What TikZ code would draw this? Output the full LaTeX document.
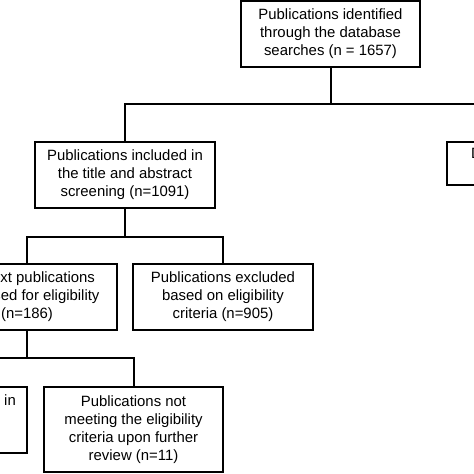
\documentclass[tikz,border=0pt]{standalone}
\usepackage{fontspec}
\setmainfont{Liberation Sans}
\begin{document}
\begin{tikzpicture}[x=1pt,y=-1pt,
  box/.style={draw=black,line width=2pt,rectangle,inner sep=0pt,align=center,
    font=\fontsize{14.9}{18}\selectfont},
  link/.style={draw=black,line width=2pt}]
\clip (0,0) rectangle (474,474);
\fill[white] (0,0) rectangle (474,474);
\node[box,minimum width=179pt,minimum height=66pt] (top) at (330.5,34)
  {Publications identified\\through the database\\searches (n = 1657)};
\node[box,minimum width=180pt,minimum height=66pt] (screen) at (125,175)
  {Publications included in\\the title and abstract\\screening (n=1091)};
\node[box,minimum width=181pt,minimum height=43pt] (dup) at (537,163.5)
  {Duplicates removed\\(n=566)};
\node[box,minimum width=180pt,minimum height=66pt] (full) at (27,297)
  {Full-text publications\\assessed for eligibility\\(n=186)};
\node[box,minimum width=180pt,minimum height=66pt] (excl) at (223,297)
  {Publications excluded\\based on eligibility\\criteria (n=905)};
\node[box,minimum width=178pt,minimum height=66pt] (incl) at (-62,420)
  {Publications included in\\the review\\(n=175)};
\node[box,minimum width=179pt,minimum height=85pt] (notmeet) at (133.5,429.5)
  {Publications not\\meeting the eligibility\\criteria upon further\\review (n=11)};
\coordinate (j1) at (330.5,104);
\coordinate (j2) at (125,237);
\coordinate (j3) at (27,358);
\draw[link] (top.south) -- (j1);
\draw[link] (j1) -| (screen.north);
\draw[link] (j1) -| (dup.north);
\draw[link] (screen.south) -- (j2);
\draw[link] (j2) -| (full.north);
\draw[link] (j2) -| (excl.north);
\draw[link] (full.south) -- (j3);
\draw[link] (j3) -| (incl.north);
\draw[link] (j3) -| (notmeet.north);
\end{tikzpicture}
\end{document}
